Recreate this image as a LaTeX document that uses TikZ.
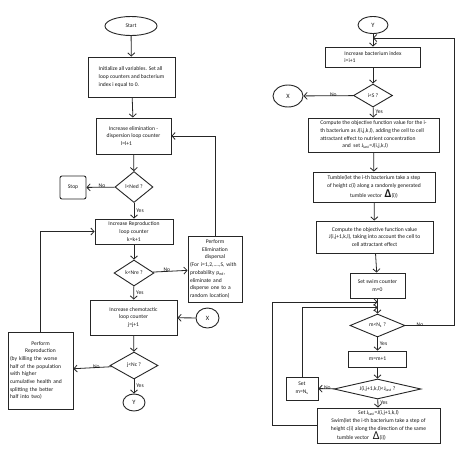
\documentclass[tikz,border=0pt]{standalone}
\usepackage{fontspec}
\setmainfont{Carlito}
\usetikzlibrary{shapes.geometric,arrows.meta}
\begin{document}
\begin{tikzpicture}[x=1pt,y=-1pt,
  every node/.style={font=\fontsize{5.6}{7.7}\selectfont, text=black!90},
  bx/.style 2 args={draw=black!85, line width=0.9pt, rectangle, inner sep=1pt, minimum width=#1pt, minimum height=#2pt},
  dm/.style n args={3}{draw=black!85, line width=0.9pt, diamond, inner sep=0pt, minimum width=#1pt, minimum height=#2pt, aspect=#3},
  el/.style 2 args={draw=black!85, line width=0.9pt, ellipse, inner sep=0pt, minimum width=#1pt, minimum height=#2pt},
  ar/.style={draw=black!85, line width=0.8pt, -{Straight Barb[length=3.2pt,width=7pt]}},
  ln/.style={draw=black!85, line width=0.8pt},
  lb/.style={inner sep=0pt, font=\fontsize{5.6}{6}\selectfont}
]
\fill[white] (0,0) rectangle (474,459);
\useasboundingbox (0,0) rectangle (474,459);

% ---------- left column ----------
\node[el={52}{19}] (start) at (131,26) {Start};
\node[bx={87}{40}, align=left] (init) at (131.5,77) {Initialize all variables. Set all\\loop counters and bacterium\\index i equal to 0.};
\node[bx={75}{36}, align=center] (elim) at (133.5,136) {Increase elimination -\\dispersion loop counter\\l=l+1\hspace*{14pt}};
\node[dm={38}{31}{1.2}] (ned) at (134,187) {l<Ned ?};
\node[bx={26}{23}, rounded corners=2pt] (stop) at (73,187.5) {Stop};
\node[bx={78}{25}, align=center] (repro) at (134,231.5) {Increase Reproduction\\loop counter\\k=k+1};
\node[dm={40}{26}{1.5}] (nre) at (134,273) {k<Nre ?};
\node[bx={54}{66}, text width=50pt, inner sep=1.5pt] (edisp) at (215,269) {\centering Perform\\Elimination\\dispersal\par\raggedright (For i=1,2,....,S, with\\probability p\textsubscript{ed},\\eliminate and\\disperse one to a\\random location)\par};
\node[bx={87}{35}, align=center] (chemo) at (133.5,317.5) {Increase chemotactic\\loop counter\\j=j+1};
\node[el={23}{20}, font=\fontsize{6.5}{7}\selectfont] (xl) at (207.5,318) {X};
\node[dm={48}{27}{1.8}] (nc) at (134,365.5) {j<Nc ?};
\node[bx={65}{77}, text width=61pt, inner sep=1.5pt] (prep) at (40.5,370.5) {\centering Perform\\Reproduction\par\raggedright (by killing the worse\\half of the population\\with higher\\cumulative health and\\splitting the better\\half into two)\par};
\node[el={22}{17}, font=\fontsize{6.5}{7}\selectfont] (yl) at (134,402.5) {Y};

\draw[ar] (start) -- (init);
\draw[ar] (init) -- (elim);
\draw[ar] (elim) -- (ned);
\draw[ar] (ned) -- node[lb, pos=0.5, right=2pt] {Yes} (repro);
\draw[ar] (ned) -- node[lb, above, pos=0.45, yshift=-1pt] {No} (stop);
\draw[ar] (repro) -- (nre);
\draw[ar] (nre) -- node[lb, pos=0.5, right=2pt] {Yes} (chemo);
\draw[ar] (nre) -- node[lb, above, pos=0.4, yshift=-1pt] {No} (edisp);
\draw[ar] (edisp.north) |- (elim.east);
\draw[ar] (chemo) -- (nc);
\draw[ar] (xl) -- (chemo);
\draw[ar] (nc) -- node[lb, pos=0.45, right=2pt] {Yes} (yl);
\draw[ar] (nc) -- node[lb, above, pos=0.4, yshift=-1pt] {No} (prep);
\draw[ar] (prep.north) |- (repro.west);

% ---------- right column ----------
\node[el={30}{17}, font=\fontsize{6.5}{7}\selectfont] (yr) at (373,25) {Y};
\node[bx={95}{20}, align=left] (inci) at (373,57) {Increase bacterium index\\i=i+1};
\coordinate (j1) at (373,38);
\node[dm={39}{23}{1.7}] (is) at (373,95.5) {i<S ?};
\node[el={30}{22}, font=\fontsize{6.5}{7}\selectfont] (xr) at (288,96) {X};
\node[bx={131}{34}, align=left] (comp1) at (373.5,135) {Compute the objective function value for the i-\\th bacterium as J(i,j,k,l), adding the cell to cell\\attractant effect to nutrient concentration\\\hspace*{22pt}and\ \ set J\textsubscript{last}=J(i,j,k,l)};
\node[bx={122}{30}, align=center] (tumble) at (374,187) {Tumble(let the i-th bacterium take a step\\of height c(i) along a randomly generated\\tumble vector \ {\bfseries\large Δ}(i))};
\node[bx={117}{32}, align=center] (comp2) at (374.5,237) {Compute the objective function value\\J(i,j+1,k,l), taking into account the cell to\\cell attractant effect};
\node[bx={55}{25}, align=center] (swimc) at (377.5,285.5) {Set swim counter\\m=0};
\node[dm={55}{23}{2.4}] (mns) at (377.5,325.5) {m<N\textsubscript{s} ?};
\node[bx={58}{16}] (mm) at (377.5,359) {m=m+1};
\node[dm={87}{20}{4.4}] (jl) at (377.5,389) {J(i,j+1,k,l)<J\textsubscript{last} ?};
\node[bx={32}{23}, align=center] (setm) at (302,388.5) {Set\\m=N\textsubscript{s}};
\node[bx={123}{35}, align=center] (swim) at (378.5,425.5) {Set J\textsubscript{last}=J(i,j+1,k,l)\\Swim(let the i-th bacterium take a step of\\height c(i) along the direction of the same\\tumble vector\ \ \ {\large Δ}(i))\hspace*{34pt}};
\coordinate (j2) at (377.5,302);
\coordinate (j3) at (377.5,307.5);
\coordinate (rt) at (454,325.5);
\coordinate (lf) at (272,425.5);

\draw[ar] (yr) -- (inci);
\draw[ar] (inci) -- (is);
\draw[ar] (is) -- node[lb, pos=0.45, right=2pt] {Yes} (comp1);
\draw[ar] (is) -- node[lb, above, pos=0.4, yshift=-1pt] {No} (xr);
\draw[ar] (comp1) -- (tumble);
\draw[ar] (tumble) -- (comp2);
\draw[ar] (comp2) -- (swimc);
\draw[ar] (swimc) -- (mns);
\draw[ar] (mns) -- node[lb, pos=0.45, right=2pt] {Yes} (mm);
\draw[ar] (mm) -- (jl);
\draw[ar] (jl) -- node[lb, pos=0.45, right=2pt] {Yes} (swim);
\draw[ar] (jl) -- node[lb, above, pos=0.45, yshift=-1pt] {No} (setm);
\draw[ln] (mns.east) -- node[lb, above, pos=0.3, yshift=-1pt] {No} (rt);
\draw[ar] (rt) |- (j1);
\draw[ar] (swim.west) -- (lf) |- (j2);
\draw[ar] (setm.north) |- (j3);
\end{tikzpicture}
\end{document}
